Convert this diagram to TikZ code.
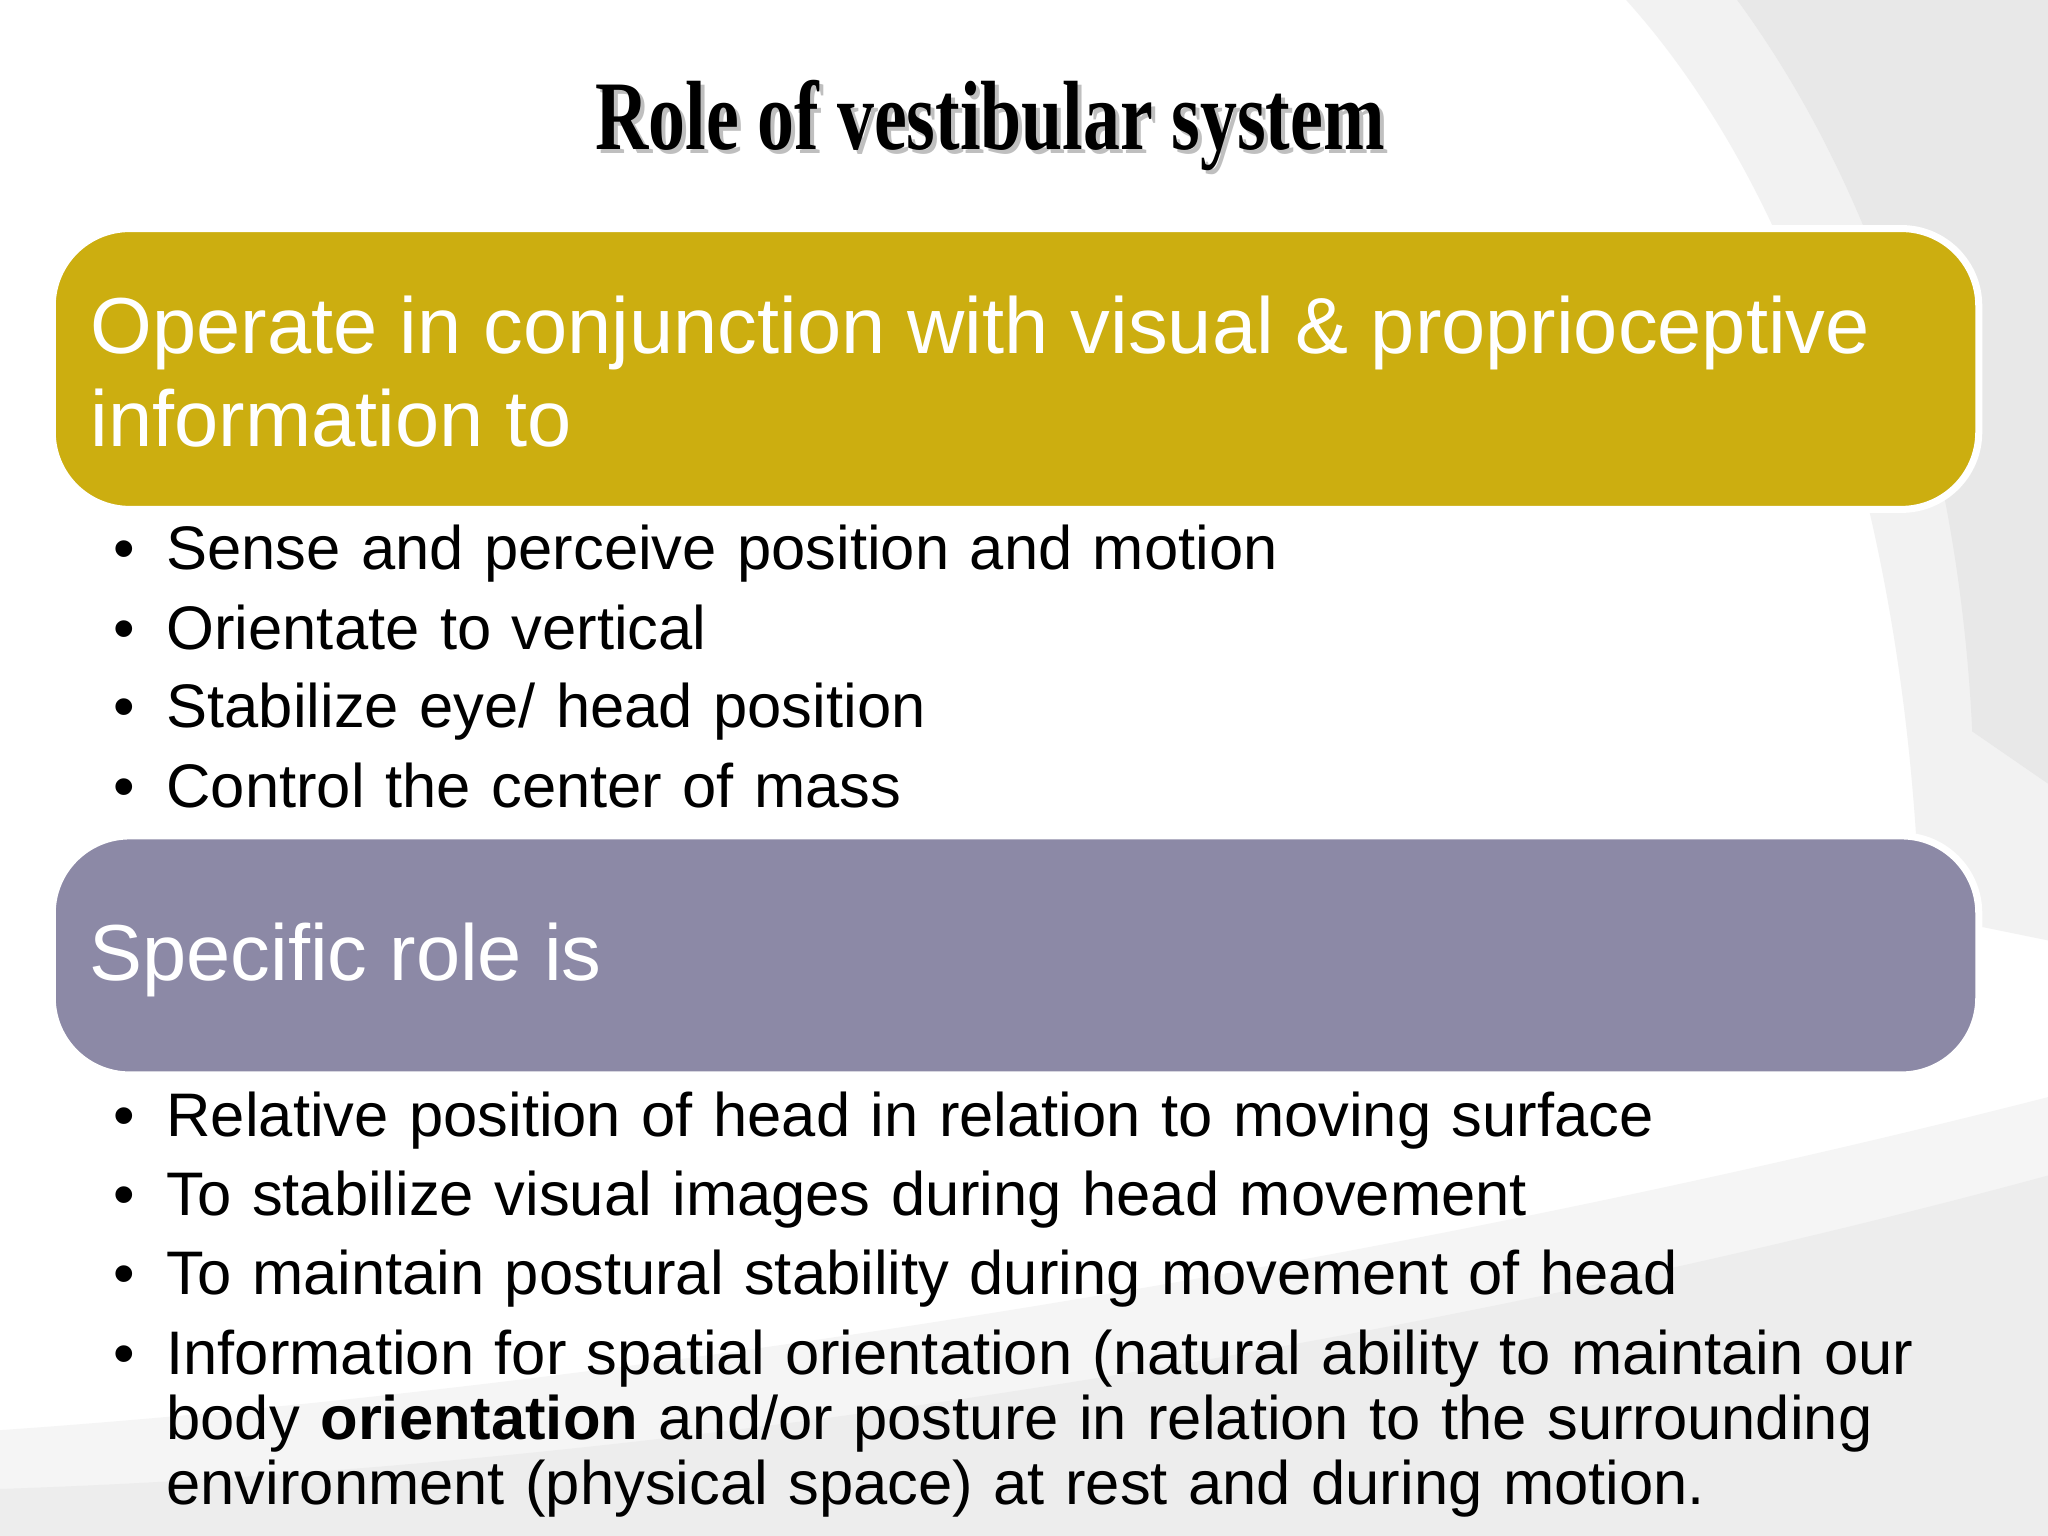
\documentclass[tikz,border=0pt]{standalone}
\usepackage{fontspec}
\setmainfont{Liberation Sans}
\newfontfamily\titlefont{Liberation Serif}
\definecolor{ybox}{RGB}{204,174,16}
\definecolor{pbox}{RGB}{140,137,166}
\begin{document}
\begin{tikzpicture}[x=0.013061cm,y=-0.013061cm,
  box/.style={draw=white,line width=2pt,rounded corners=22pt},
  boxtxt/.style={anchor=north west,text=white,font=\fontsize{22.6}{26.5}\selectfont,align=left,inner sep=0pt},
  dot/.style={anchor=base west,inner sep=0pt,font=\fontsize{17.5}{18.5}\selectfont},
  bul/.style={anchor=base west,inner sep=0pt,font=\fontsize{17.5}{18.5}\selectfont,text width=18.5cm,align=left}]
\useasboundingbox (0,0) rectangle (1568,1176);
\fill[white] (0,0) rectangle (1568,1176);
% background swooshes
\fill[gray!10] (1245,0) .. controls (1380,150) and (1460,400) .. (1470,700) -- (1568,720) -- (1568,0) -- cycle;
\fill[gray!18] (1330,0) .. controls (1440,150) and (1500,350) .. (1510,560) -- (1568,600) -- (1568,0) -- cycle;
\fill[gray!8] (0,1095) .. controls (500,1060) and (1100,960) .. (1568,840) -- (1568,1176) -- (0,1176) -- cycle;
\fill[gray!14] (0,1140) .. controls (600,1120) and (1200,1000) .. (1568,900) -- (1568,1176) -- (0,1176) -- cycle;
% title
\node[xscale=0.75] (tshadow) at (761,99) {\titlefont\fontsize{28}{30}\selectfont\bfseries\color{gray!50}Role of vestibular system};
\node[xscale=0.75] (title) at (758,96) {\titlefont\fontsize{28}{30}\selectfont\bfseries Role of vestibular system};
% yellow box
\draw[box,fill=ybox] (40,175) rectangle (1515,390);
\node[boxtxt] (y1) at (69,226) {Operate in conjunction with visual \& proprioceptive\\information to};
% bullets 1
\node[dot] (d1) at (86,436) {•}; \node[bul] (b1) at (127,436) {Sense and perceive position and motion};
\node[dot] (d2) at (86,497) {•}; \node[bul] (b2) at (127,497) {Orientate to vertical};
\node[dot] (d3) at (86,557) {•}; \node[bul] (b3) at (127,557) {Stabilize eye/ head position};
\node[dot] (d4) at (86,618) {•}; \node[bul] (b4) at (127,618) {Control the center of mass};
% purple box
\draw[box,fill=pbox] (40,640) rectangle (1515,823);
\node[boxtxt] (p1) at (68,706) {Specific role is};
% bullets 2
\node[dot] (e1) at (86,870) {•}; \node[bul] (c1) at (127,870) {Relative position of head in relation to moving surface};
\node[dot] (e2) at (86,931) {•}; \node[bul] (c2) at (127,931) {To stabilize visual images during head movement};
\node[dot] (e3) at (86,991) {•}; \node[bul] (c3) at (127,991) {To maintain postural stability during movement of head};
\node[dot] (e4) at (86,1052) {•};
\node[bul] (c4) at (127,1052) {Information for spatial orientation (natural ability to maintain our\\body \textbf{orientation} and/or posture in relation to the surrounding\\environment (physical space) at rest and during motion.};
\end{tikzpicture}
\end{document}
